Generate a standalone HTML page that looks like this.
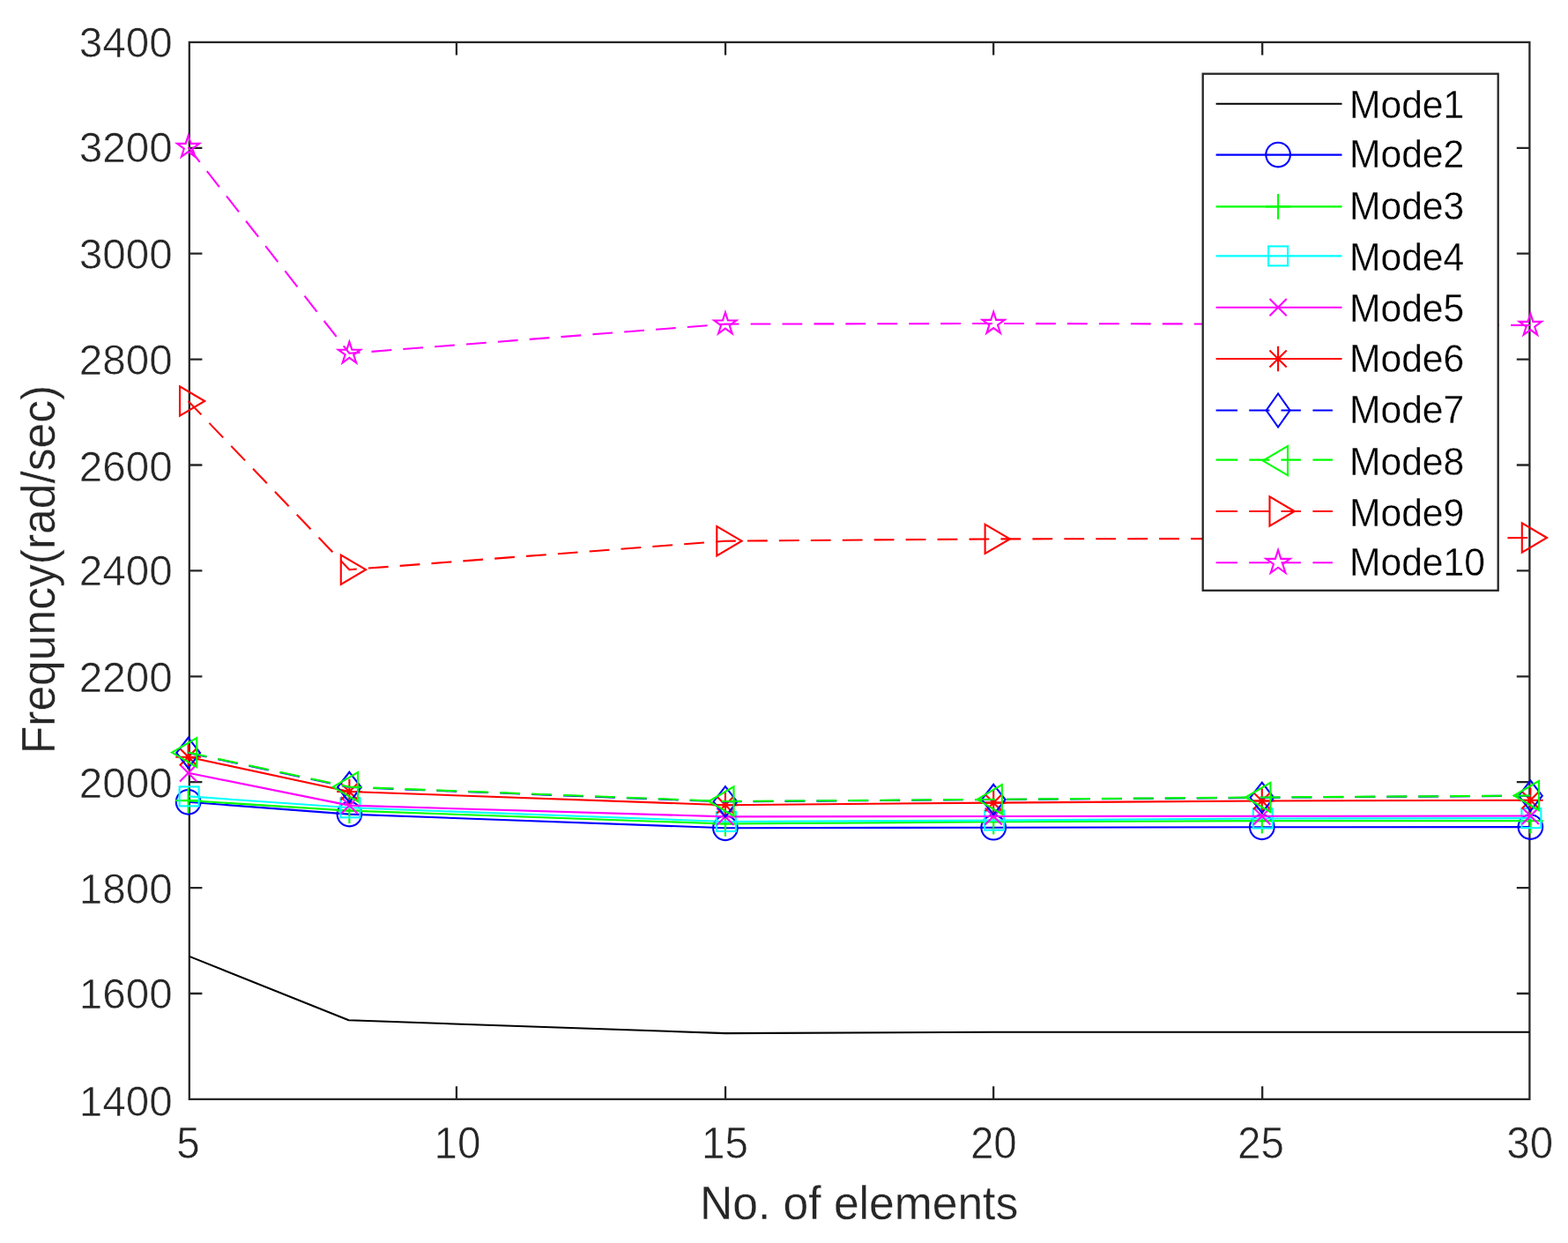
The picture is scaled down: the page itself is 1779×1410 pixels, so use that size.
<!DOCTYPE html>
<html lang="en"><head><meta charset="utf-8"><title>Frequency vs No. of elements</title>
<style>html,body{margin:0;padding:0;background:#fff}body{width:1779px;height:1410px;overflow:hidden}svg{display:block}text{font-family:"Liberation Sans",sans-serif}</style>
</head><body>
<svg width="1779" height="1410" viewBox="0 0 1779 1410" role="img" aria-label="Frequncy(rad/sec) versus No. of elements for Mode1 to Mode10">
<rect x="0" y="0" width="1779" height="1410" fill="#ffffff"/>
<g fill="none" stroke="#262626" stroke-width="2.3">
<rect x="214.8" y="47.9" width="1520.6" height="1199"/>
<path d="M517.92 1246.9V1232.3M517.92 47.9V62.5M823.04 1246.9V1232.3M823.04 47.9V62.5M1127.16 1246.9V1232.3M1127.16 47.9V62.5M1432.18 1246.9V1232.3M1432.18 47.9V62.5M214.8 1127H229.4M1735.4 1127H1720.8M214.8 1007.1H229.4M1735.4 1007.1H1720.8M214.8 887.2H229.4M1735.4 887.2H1720.8M214.8 767.3H229.4M1735.4 767.3H1720.8M214.8 647.4H229.4M1735.4 647.4H1720.8M214.8 527.5H229.4M1735.4 527.5H1720.8M214.8 407.6H229.4M1735.4 407.6H1720.8M214.8 287.7H229.4M1735.4 287.7H1720.8M214.8 167.8H229.4M1735.4 167.8H1720.8"/>
</g>
<g>
<polyline points="214.8,1084.9 395.6,1157.3 823,1172.1 1127.2,1170.8 1431.3,1170.8 1735.4,1170.8" fill="none" stroke="#000000" stroke-width="2.1" stroke-linejoin="round"/>
</g>
<g>
<polyline points="213.6,909.8 396.4,923.6 822.9,939.3 1127.2,938.7 1431.8,938.3 1736.4,938.1" fill="none" stroke="#0000ff" stroke-width="2.1" stroke-linejoin="round"/>
<circle cx="213.6" cy="909.8" r="13.8" fill="none" stroke="#0000ff" stroke-width="2.1"/>
<circle cx="396.4" cy="923.6" r="13.8" fill="none" stroke="#0000ff" stroke-width="2.1"/>
<circle cx="822.9" cy="939.3" r="13.8" fill="none" stroke="#0000ff" stroke-width="2.1"/>
<circle cx="1127.2" cy="938.7" r="13.8" fill="none" stroke="#0000ff" stroke-width="2.1"/>
<circle cx="1431.8" cy="938.3" r="13.8" fill="none" stroke="#0000ff" stroke-width="2.1"/>
<circle cx="1736.4" cy="938.1" r="13.8" fill="none" stroke="#0000ff" stroke-width="2.1"/>
</g>
<g>
<polyline points="213.6,908.1 396.4,919.6 822.9,934.5 1127.2,932.3 1431.8,931.1 1736.4,931.1" fill="none" stroke="#00ff00" stroke-width="2.1" stroke-linejoin="round"/>
<path d="M199.3 908.1H227.9M213.6 893.8V922.4" fill="none" stroke="#00ff00" stroke-width="2.1"/>
<path d="M382.1 919.6H410.7M396.4 905.3V933.9" fill="none" stroke="#00ff00" stroke-width="2.1"/>
<path d="M808.6 934.5H837.2M822.9 920.2V948.8" fill="none" stroke="#00ff00" stroke-width="2.1"/>
<path d="M1112.9 932.3H1141.5M1127.2 918V946.6" fill="none" stroke="#00ff00" stroke-width="2.1"/>
<path d="M1417.5 931.1H1446.1M1431.8 916.8V945.4" fill="none" stroke="#00ff00" stroke-width="2.1"/>
<path d="M1722.1 931.1H1750.7M1736.4 916.8V945.4" fill="none" stroke="#00ff00" stroke-width="2.1"/>
</g>
<g>
<polyline points="214.6,903.4 397.4,916.3 823.9,932 1128.2,930.6 1432.8,928.5 1737.4,928.1" fill="none" stroke="#00ffff" stroke-width="2.1" stroke-linejoin="round"/>
<rect x="203.6" y="892.4" width="22" height="22" fill="none" stroke="#00ffff" stroke-width="2.1"/>
<rect x="386.4" y="905.3" width="22" height="22" fill="none" stroke="#00ffff" stroke-width="2.1"/>
<rect x="812.9" y="921" width="22" height="22" fill="none" stroke="#00ffff" stroke-width="2.1"/>
<rect x="1117.2" y="919.6" width="22" height="22" fill="none" stroke="#00ffff" stroke-width="2.1"/>
<rect x="1421.8" y="917.5" width="22" height="22" fill="none" stroke="#00ffff" stroke-width="2.1"/>
<rect x="1726.4" y="917.1" width="22" height="22" fill="none" stroke="#00ffff" stroke-width="2.1"/>
</g>
<g>
<polyline points="213.6,876.8 396.4,913.6 822.9,926.4 1127.2,926 1431.8,925.8 1736.4,925.5" fill="none" stroke="#ff00ff" stroke-width="2.1" stroke-linejoin="round"/>
<path d="M204 867.2L223.2 886.4M204 886.4L223.2 867.2" fill="none" stroke="#ff00ff" stroke-width="2.1"/>
<path d="M386.8 904L406 923.2M386.8 923.2L406 904" fill="none" stroke="#ff00ff" stroke-width="2.1"/>
<path d="M813.3 916.8L832.5 936M813.3 936L832.5 916.8" fill="none" stroke="#ff00ff" stroke-width="2.1"/>
<path d="M1117.6 916.4L1136.8 935.6M1117.6 935.6L1136.8 916.4" fill="none" stroke="#ff00ff" stroke-width="2.1"/>
<path d="M1422.2 916.2L1441.4 935.4M1422.2 935.4L1441.4 916.2" fill="none" stroke="#ff00ff" stroke-width="2.1"/>
<path d="M1726.8 915.9L1746 935.1M1726.8 935.1L1746 915.9" fill="none" stroke="#ff00ff" stroke-width="2.1"/>
</g>
<g>
<polyline points="213.6,858.7 396.4,898 822.9,913.2 1127.2,910.6 1431.8,908.5 1736.4,907.7" fill="none" stroke="#ff0000" stroke-width="2.1" stroke-linejoin="round"/>
<path d="M204 849.1L223.2 868.3M204 868.3L223.2 849.1M199.3 858.7H227.9M213.6 844.4V873" fill="none" stroke="#ff0000" stroke-width="2.1"/>
<path d="M386.8 888.4L406 907.6M386.8 907.6L406 888.4M382.1 898H410.7M396.4 883.7V912.3" fill="none" stroke="#ff0000" stroke-width="2.1"/>
<path d="M813.3 903.6L832.5 922.8M813.3 922.8L832.5 903.6M808.6 913.2H837.2M822.9 898.9V927.5" fill="none" stroke="#ff0000" stroke-width="2.1"/>
<path d="M1117.6 901L1136.8 920.2M1117.6 920.2L1136.8 901M1112.9 910.6H1141.5M1127.2 896.3V924.9" fill="none" stroke="#ff0000" stroke-width="2.1"/>
<path d="M1422.2 898.9L1441.4 918.1M1422.2 918.1L1441.4 898.9M1417.5 908.5H1446.1M1431.8 894.2V922.8" fill="none" stroke="#ff0000" stroke-width="2.1"/>
<path d="M1726.8 898.1L1746 917.3M1726.8 917.3L1746 898.1M1722.1 907.7H1750.7M1736.4 893.4V922" fill="none" stroke="#ff0000" stroke-width="2.1"/>
</g>
<g>
<polyline points="213.6,854 396.4,893 822.9,909.4 1127.2,907 1431.8,904.8 1736.4,902.7" fill="none" stroke="#0000ff" stroke-width="2.1" stroke-linejoin="round" stroke-dasharray="22.8 13.14" stroke-dashoffset="1.5"/>
<path d="M213.6 836.8L227 854L213.6 871.2L200.2 854Z" fill="none" stroke="#0000ff" stroke-width="2.1"/>
<path d="M396.4 875.8L409.8 893L396.4 910.2L383 893Z" fill="none" stroke="#0000ff" stroke-width="2.1"/>
<path d="M822.9 892.2L836.3 909.4L822.9 926.6L809.5 909.4Z" fill="none" stroke="#0000ff" stroke-width="2.1"/>
<path d="M1127.2 889.8L1140.6 907L1127.2 924.2L1113.8 907Z" fill="none" stroke="#0000ff" stroke-width="2.1"/>
<path d="M1431.8 887.6L1445.2 904.8L1431.8 922L1418.4 904.8Z" fill="none" stroke="#0000ff" stroke-width="2.1"/>
<path d="M1736.4 885.5L1749.8 902.7L1736.4 919.9L1723 902.7Z" fill="none" stroke="#0000ff" stroke-width="2.1"/>
</g>
<g>
<polyline points="213.6,853.6 396.4,892.6 822.9,909 1127.2,906.8 1431.8,904.5 1736.4,902.5" fill="none" stroke="#00ff00" stroke-width="2.1" stroke-linejoin="round" stroke-dasharray="22.8 13.14" stroke-dashoffset="1.5"/>
<path d="M195 853.6L223.2 837L223.2 870.2Z" fill="none" stroke="#00ff00" stroke-width="2.1"/>
<path d="M377.8 892.6L406 876L406 909.2Z" fill="none" stroke="#00ff00" stroke-width="2.1"/>
<path d="M804.3 909L832.5 892.4L832.5 925.6Z" fill="none" stroke="#00ff00" stroke-width="2.1"/>
<path d="M1108.6 906.8L1136.8 890.2L1136.8 923.4Z" fill="none" stroke="#00ff00" stroke-width="2.1"/>
<path d="M1413.2 904.5L1441.4 887.9L1441.4 921.1Z" fill="none" stroke="#00ff00" stroke-width="2.1"/>
<path d="M1717.8 902.5L1746 885.9L1746 919.1Z" fill="none" stroke="#00ff00" stroke-width="2.1"/>
</g>
<g>
<polyline points="213.6,455 396.4,646.2 822.9,613.7 1127.2,611.4 1431.8,611 1736.4,610" fill="none" stroke="#ff0000" stroke-width="2.1" stroke-linejoin="round" stroke-dasharray="22.8 13.14" stroke-dashoffset="1.5"/>
<path d="M232.2 455L204 438.4L204 471.6Z" fill="none" stroke="#ff0000" stroke-width="2.1"/>
<path d="M415 646.2L386.8 629.6L386.8 662.8Z" fill="none" stroke="#ff0000" stroke-width="2.1"/>
<path d="M841.5 613.7L813.3 597.1L813.3 630.3Z" fill="none" stroke="#ff0000" stroke-width="2.1"/>
<path d="M1145.8 611.4L1117.6 594.8L1117.6 628Z" fill="none" stroke="#ff0000" stroke-width="2.1"/>
<path d="M1450.4 611L1422.2 594.4L1422.2 627.6Z" fill="none" stroke="#ff0000" stroke-width="2.1"/>
<path d="M1755 610L1726.8 593.4L1726.8 626.6Z" fill="none" stroke="#ff0000" stroke-width="2.1"/>
</g>
<g>
<polyline points="213.6,167 396.4,400.8 822.9,367.6 1127.2,367 1431.8,367.6 1736.4,369" fill="none" stroke="#ff00ff" stroke-width="2.1" stroke-linejoin="round" stroke-dasharray="22.8 13.14" stroke-dashoffset="1.5"/>
<path d="M213.6 153.8L216.56 162.92L226.15 162.92L218.4 168.56L221.36 177.68L213.6 172.04L205.84 177.68L208.8 168.56L201.05 162.92L210.64 162.92Z" fill="none" stroke="#ff00ff" stroke-width="2.1"/>
<path d="M396.4 387.6L399.36 396.72L408.95 396.72L401.2 402.36L404.16 411.48L396.4 405.84L388.64 411.48L391.6 402.36L383.85 396.72L393.44 396.72Z" fill="none" stroke="#ff00ff" stroke-width="2.1"/>
<path d="M822.9 354.4L825.86 363.52L835.45 363.52L827.7 369.16L830.66 378.28L822.9 372.64L815.14 378.28L818.1 369.16L810.35 363.52L819.94 363.52Z" fill="none" stroke="#ff00ff" stroke-width="2.1"/>
<path d="M1127.2 353.8L1130.16 362.92L1139.75 362.92L1132 368.56L1134.96 377.68L1127.2 372.04L1119.44 377.68L1122.4 368.56L1114.65 362.92L1124.24 362.92Z" fill="none" stroke="#ff00ff" stroke-width="2.1"/>
<path d="M1431.8 354.4L1434.76 363.52L1444.35 363.52L1436.6 369.16L1439.56 378.28L1431.8 372.64L1424.04 378.28L1427 369.16L1419.25 363.52L1428.84 363.52Z" fill="none" stroke="#ff00ff" stroke-width="2.1"/>
<path d="M1736.4 355.8L1739.36 364.92L1748.95 364.92L1741.2 370.56L1744.16 379.68L1736.4 374.04L1728.64 379.68L1731.6 370.56L1723.85 364.92L1733.44 364.92Z" fill="none" stroke="#ff00ff" stroke-width="2.1"/>
</g>
<g fill="#262626" font-size="47.6" stroke="#ffffff" stroke-width="0.6" stroke-linejoin="round">
<text transform="translate(195.6 1265.8) scale(1 1.02)" text-anchor="end">1400</text>
<text transform="translate(195.6 1144.4) scale(1 1.02)" text-anchor="end">1600</text>
<text transform="translate(195.6 1024.5) scale(1 1.02)" text-anchor="end">1800</text>
<text transform="translate(195.6 904.6) scale(1 1.02)" text-anchor="end">2000</text>
<text transform="translate(195.6 784.7) scale(1 1.02)" text-anchor="end">2200</text>
<text transform="translate(195.6 664.3) scale(1 1.02)" text-anchor="end">2400</text>
<text transform="translate(195.6 545.5) scale(1 1.02)" text-anchor="end">2600</text>
<text transform="translate(195.6 425) scale(1 1.02)" text-anchor="end">2800</text>
<text transform="translate(195.6 305) scale(1 1.02)" text-anchor="end">3000</text>
<text transform="translate(195.6 184.2) scale(1 1.02)" text-anchor="end">3200</text>
<text transform="translate(195.6 64.8) scale(1 1.02)" text-anchor="end">3400</text>
<text transform="translate(213.6 1314) scale(1 1.05)" text-anchor="middle">5</text>
<text transform="translate(518.92 1314) scale(1 1.05)" text-anchor="middle">10</text>
<text transform="translate(822.44 1314) scale(1 1.05)" text-anchor="middle">15</text>
<text transform="translate(1127.36 1314) scale(1 1.05)" text-anchor="middle">20</text>
<text transform="translate(1430.38 1314) scale(1 1.05)" text-anchor="middle">25</text>
<text transform="translate(1735.8 1314) scale(1 1.05)" text-anchor="middle">30</text>
</g>
<g fill="#262626" font-size="51.6" stroke="#ffffff" stroke-width="0.3" stroke-linejoin="round">
<text transform="translate(974.6 1382.9) scale(1 1.05)" text-anchor="middle">No. of elements</text>
<text transform="translate(61.6 646) rotate(-90) scale(1 1.05)" text-anchor="middle">Frequncy(rad/sec)</text>
</g>
<rect x="1364.7" y="83.7" width="335" height="586.1" fill="#ffffff" stroke="#262626" stroke-width="2.3"/>
<g fill="none" stroke-width="2.1">
<path d="M1379.6 117.7H1522.5" stroke="#000000"/>
<path d="M1379.6 175.6H1522.5" stroke="#0000ff"/>
<path d="M1379.6 234.4H1522.5" stroke="#00ff00"/>
<path d="M1379.6 290.4H1522.5" stroke="#00ffff"/>
<path d="M1379.6 348.7H1522.5" stroke="#ff00ff"/>
<path d="M1379.6 407H1522.5" stroke="#ff0000"/>
<path d="M1379.6 465.5H1404M1417.2 465.5H1440.4M1453.5 465.5H1475.9M1489.4 465.5H1511.9" stroke="#0000ff"/>
<path d="M1379.6 521.6H1404M1417.2 521.6H1440.4M1453.5 521.6H1475.9M1489.4 521.6H1511.9" stroke="#00ff00"/>
<path d="M1379.6 580H1404M1417.2 580H1440.4M1453.5 580H1475.9M1489.4 580H1511.9" stroke="#ff0000"/>
<path d="M1379.6 638.3H1404M1417.2 638.3H1440.4M1453.5 638.3H1475.9M1489.4 638.3H1511.9" stroke="#ff00ff"/>
</g><g>
<circle cx="1450.1" cy="175.6" r="13.8" fill="none" stroke="#0000ff" stroke-width="2.1"/>
<path d="M1435.8 234.4H1464.4M1450.1 220.1V248.7" fill="none" stroke="#00ff00" stroke-width="2.1"/>
<rect x="1439.1" y="279.4" width="22" height="22" fill="none" stroke="#00ffff" stroke-width="2.1"/>
<path d="M1440.5 339.1L1459.7 358.3M1440.5 358.3L1459.7 339.1" fill="none" stroke="#ff00ff" stroke-width="2.1"/>
<path d="M1440.5 397.4L1459.7 416.6M1440.5 416.6L1459.7 397.4M1435.8 407H1464.4M1450.1 392.7V421.3" fill="none" stroke="#ff0000" stroke-width="2.1"/>
<path d="M1450.1 446.5L1463.5 465.5L1450.1 484.5L1436.7 465.5Z" fill="none" stroke="#0000ff" stroke-width="2.1"/>
<path d="M1432.8 522.6L1461 506L1461 539.2Z" fill="none" stroke="#00ff00" stroke-width="2.1"/>
<path d="M1468.7 580L1440.5 563.4L1440.5 596.6Z" fill="none" stroke="#ff0000" stroke-width="2.1"/>
<path d="M1450.1 624L1453.31 633.88L1463.7 633.88L1455.3 639.99L1458.51 649.87L1450.1 643.76L1441.69 649.87L1444.9 639.99L1436.5 633.88L1446.89 633.88Z" fill="none" stroke="#ff00ff" stroke-width="2.1"/>
</g>
<g fill="#000000" font-size="42.6" stroke="#ffffff" stroke-width="0.3" stroke-linejoin="round">
<text transform="translate(1531 134.4) scale(1 1.05)">Mode1</text>
<text transform="translate(1531 190) scale(1 1.05)">Mode2</text>
<text transform="translate(1531 248.9) scale(1 1.05)">Mode3</text>
<text transform="translate(1531 307) scale(1 1.05)">Mode4</text>
<text transform="translate(1531 365.2) scale(1 1.05)">Mode5</text>
<text transform="translate(1531 422.2) scale(1 1.05)">Mode6</text>
<text transform="translate(1531 480.4) scale(1 1.05)">Mode7</text>
<text transform="translate(1531 538.6) scale(1 1.05)">Mode8</text>
<text transform="translate(1531 596.6) scale(1 1.05)">Mode9</text>
<text transform="translate(1531 652.8) scale(1 1.05)">Mode10</text>
</g>
</svg>
</body></html>
